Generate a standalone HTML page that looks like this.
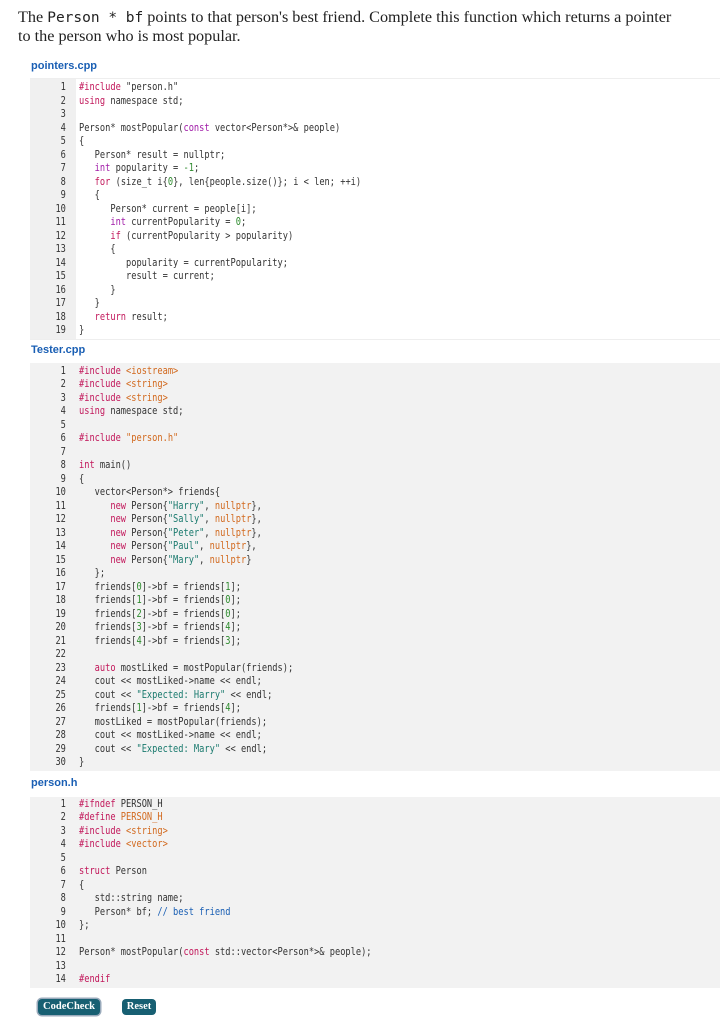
<!DOCTYPE html>
<html><head><meta charset="utf-8"><style>
body{margin:0;width:721px;height:1024px;background:#fff;position:relative;overflow:hidden}
.t{position:absolute;left:18px;font-family:"Liberation Serif",serif;font-size:16.2px;color:#222;line-height:18px}
.t code{font-family:"DejaVu Sans Mono",monospace;font-size:14.5px}
.h{position:absolute;left:31px;font-family:"Liberation Sans",sans-serif;font-weight:bold;font-size:11px;color:#1a5fb4}
.box{position:absolute;left:30px;width:690px;background:#f2f2f2}
.box.w{background:#fff;border-top:1px solid #eee;border-bottom:1px solid #eee}
.g{position:absolute;left:0;top:0;bottom:0;width:46px;background:#f0f0f0}
pre{margin:0;position:absolute;left:0;font-family:"DejaVu Sans Mono",monospace;font-size:10.4px;line-height:13.5px;color:#333;transform:scaleX(0.835);transform-origin:0 0}
.n{display:inline-block;width:43px;text-align:right;margin-right:15.7px;color:#333}
.k{color:#c2185b}.kw{color:#a11ca8}.s{color:#d2691e}.st{color:#1a7a6e}.d{color:#2e8b2e}.c{color:#1a5fb4}.o{color:#d2691e}
.b{position:absolute;top:999px;height:16px;background:#175f72;color:#fff;font-family:"Liberation Serif",serif;font-weight:bold;font-size:10.5px;line-height:16px;text-align:center;border-radius:4px}
</style></head><body>
<div class="t" style="top:8px">The <code>Person * bf</code> points to that person's best friend. Complete this function which returns a pointer<br>to the person who is most popular.</div>

<div class="h" style="top:60px">pointers.cpp</div>
<div class="box w" style="top:78px;height:260px"><div class="g"></div>
<pre style="top:2px"><span class="n">1</span><span class="k">#include</span> "person.h"
<span class="n">2</span><span class="k">using</span> namespace std;
<span class="n">3</span>
<span class="n">4</span>Person* mostPopular(<span class="kw">const</span> vector&lt;Person*&gt;&amp; people)
<span class="n">5</span>{
<span class="n">6</span>   Person* result = nullptr;
<span class="n">7</span>   <span class="kw">int</span> popularity = <span class="d">-1</span>;
<span class="n">8</span>   <span class="k">for</span> (size_t i{<span class="d">0</span>}, len{people.size()}; i &lt; len; ++i)
<span class="n">9</span>   {
<span class="n">10</span>      Person* current = people[i];
<span class="n">11</span>      <span class="kw">int</span> currentPopularity = <span class="d">0</span>;
<span class="n">12</span>      <span class="k">if</span> (currentPopularity &gt; popularity)
<span class="n">13</span>      {
<span class="n">14</span>         popularity = currentPopularity;
<span class="n">15</span>         result = current;
<span class="n">16</span>      }
<span class="n">17</span>   }
<span class="n">18</span>   <span class="k">return</span> result;
<span class="n">19</span>}</pre></div>

<div class="h" style="top:344px">Tester.cpp</div>
<div class="box" style="top:363px;height:408px">
<pre style="top:1.5px"><span class="n">1</span><span class="k">#include</span> <span class="s">&lt;iostream&gt;</span>
<span class="n">2</span><span class="k">#include</span> <span class="s">&lt;string&gt;</span>
<span class="n">3</span><span class="k">#include</span> <span class="s">&lt;string&gt;</span>
<span class="n">4</span><span class="k">using</span> namespace std;
<span class="n">5</span>
<span class="n">6</span><span class="k">#include</span> <span class="s">"person.h"</span>
<span class="n">7</span>
<span class="n">8</span><span class="k">int</span> main()
<span class="n">9</span>{
<span class="n">10</span>   vector&lt;Person*&gt; friends{
<span class="n">11</span>      <span class="k">new</span> Person{<span class="st">"Harry"</span>, <span class="o">nullptr</span>},
<span class="n">12</span>      <span class="k">new</span> Person{<span class="st">"Sally"</span>, <span class="o">nullptr</span>},
<span class="n">13</span>      <span class="k">new</span> Person{<span class="st">"Peter"</span>, <span class="o">nullptr</span>},
<span class="n">14</span>      <span class="k">new</span> Person{<span class="st">"Paul"</span>, <span class="o">nullptr</span>},
<span class="n">15</span>      <span class="k">new</span> Person{<span class="st">"Mary"</span>, <span class="o">nullptr</span>}
<span class="n">16</span>   };
<span class="n">17</span>   friends[<span class="d">0</span>]-&gt;bf = friends[<span class="d">1</span>];
<span class="n">18</span>   friends[<span class="d">1</span>]-&gt;bf = friends[<span class="d">0</span>];
<span class="n">19</span>   friends[<span class="d">2</span>]-&gt;bf = friends[<span class="d">0</span>];
<span class="n">20</span>   friends[<span class="d">3</span>]-&gt;bf = friends[<span class="d">4</span>];
<span class="n">21</span>   friends[<span class="d">4</span>]-&gt;bf = friends[<span class="d">3</span>];
<span class="n">22</span>
<span class="n">23</span>   <span class="k">auto</span> mostLiked = mostPopular(friends);
<span class="n">24</span>   cout &lt;&lt; mostLiked-&gt;name &lt;&lt; endl;
<span class="n">25</span>   cout &lt;&lt; <span class="st">"Expected: Harry"</span> &lt;&lt; endl;
<span class="n">26</span>   friends[<span class="d">1</span>]-&gt;bf = friends[<span class="d">4</span>];
<span class="n">27</span>   mostLiked = mostPopular(friends);
<span class="n">28</span>   cout &lt;&lt; mostLiked-&gt;name &lt;&lt; endl;
<span class="n">29</span>   cout &lt;&lt; <span class="st">"Expected: Mary"</span> &lt;&lt; endl;
<span class="n">30</span>}</pre></div>

<div class="h" style="top:777px">person.h</div>
<div class="box" style="top:797px;height:191px">
<pre style="top:0.5px"><span class="n">1</span><span class="k">#ifndef</span> PERSON_H
<span class="n">2</span><span class="k">#define</span> <span class="s">PERSON_H</span>
<span class="n">3</span><span class="k">#include</span> <span class="s">&lt;string&gt;</span>
<span class="n">4</span><span class="k">#include</span> <span class="s">&lt;vector&gt;</span>
<span class="n">5</span>
<span class="n">6</span><span class="k">struct</span> Person
<span class="n">7</span>{
<span class="n">8</span>   std::string name;
<span class="n">9</span>   Person* bf; <span class="c">// best friend</span>
<span class="n">10</span>};
<span class="n">11</span>
<span class="n">12</span>Person* mostPopular(<span class="k">const</span> std::vector&lt;Person*&gt;&amp; people);
<span class="n">13</span>
<span class="n">14</span><span class="k">#endif</span></pre></div>

<div class="b" style="left:38px;width:62px;box-shadow:0 0 0 1.5px #9ab">CodeCheck</div>
<div class="b" style="left:122px;width:34px">Reset</div>
</body></html>
